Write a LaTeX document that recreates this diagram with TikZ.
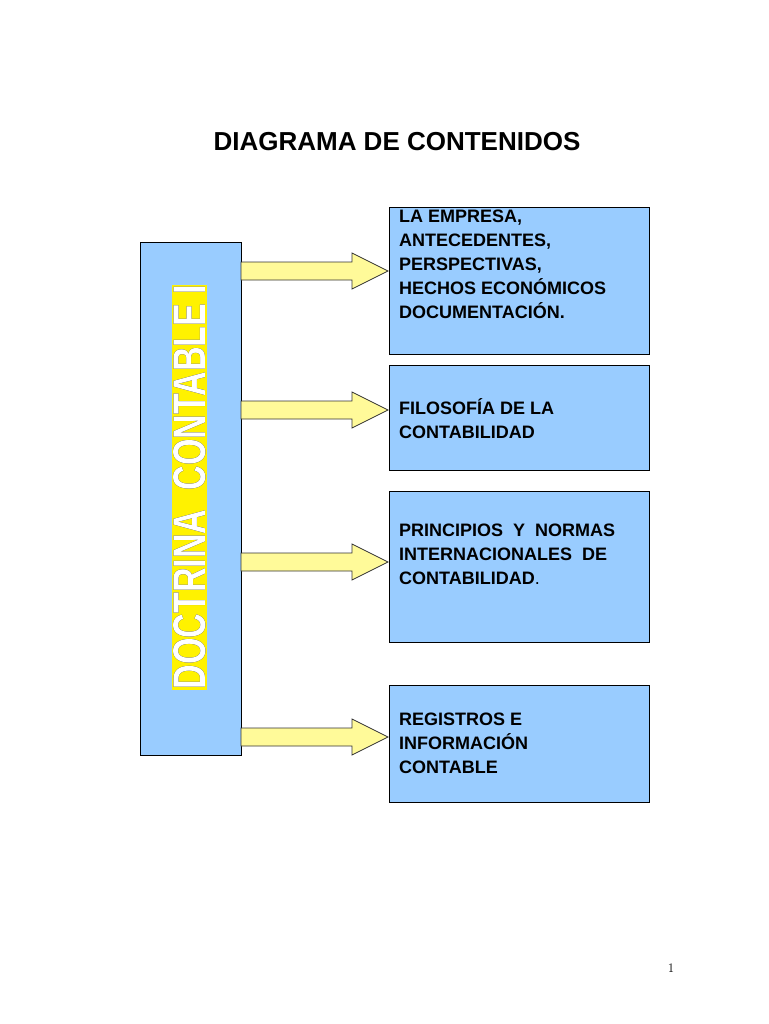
\documentclass[tikz,border=0pt]{standalone}
\usepackage{fontspec}
\setmainfont{Liberation Sans}
\usepackage[outline]{contour}
\contourlength{0.6pt}
\begin{document}
\begin{tikzpicture}[x=1pt,y=-1pt,
  bx/.style={draw=black,fill=blue!40!cyan!40,line width=0.8pt},
  txt/.style={anchor=north west,align=left,font=\fontsize{18}{24}\selectfont\bfseries,inner sep=0pt},
  arr/.style={draw=black!80,fill=yellow!40,line width=0.8pt}]
\useasboundingbox (0,0) rectangle (768,1024);
\definecolor{bl}{RGB}{153,204,255}
\node[font=\fontsize{26}{30}\selectfont\bfseries] (title) at (397,142) {DIAGRAMA DE CONTENIDOS};
\draw[bx,fill=bl] (140,242) rectangle (241,755);
\fill[yellow] (172,285) rectangle (207,690);
\node[rotate=90,inner sep=0pt] (vt) at (190,487) {\resizebox{405pt}{32pt}{\bfseries\contour{black}{\color{white}DOCTRINA\ \ CONTABLE I}}};
\foreach \y/\n in {271/a1,410/a2,562/a3,737/a4}{
  \draw[arr] (241,\y-9) -- (352,\y-9) -- (352,\y-18) -- (388,\y) -- (352,\y+18) -- (352,\y+9) -- (241,\y+9) -- cycle;
}
\draw[bx,fill=bl] (389,207) rectangle (649,354);
\draw[bx,fill=bl] (389,365) rectangle (649,470);
\draw[bx,fill=bl] (389,491) rectangle (649,642);
\draw[bx,fill=bl] (389,685) rectangle (649,802);
\node[txt] (t1) at (399,210) {LA EMPRESA,\\ANTECEDENTES,\\PERSPECTIVAS,\\HECHOS ECONÓMICOS\\DOCUMENTACIÓN.};
\node[txt] (t2) at (399,398) {FILOSOFÍA DE LA\\CONTABILIDAD};
\node[txt] (t3) at (399,524) {PRINCIPIOS\ \ Y\ \ NORMAS\\INTERNACIONALES\ \ DE\\CONTABILIDAD\mdseries.};
\node[txt] (t4) at (399,713) {REGISTROS E\\INFORMACIÓN\\CONTABLE};
\node[font=\fontfamily{lmr}\selectfont\fontsize{13}{15}\selectfont] (pn) at (671,968) {1};
\end{tikzpicture}
\end{document}
